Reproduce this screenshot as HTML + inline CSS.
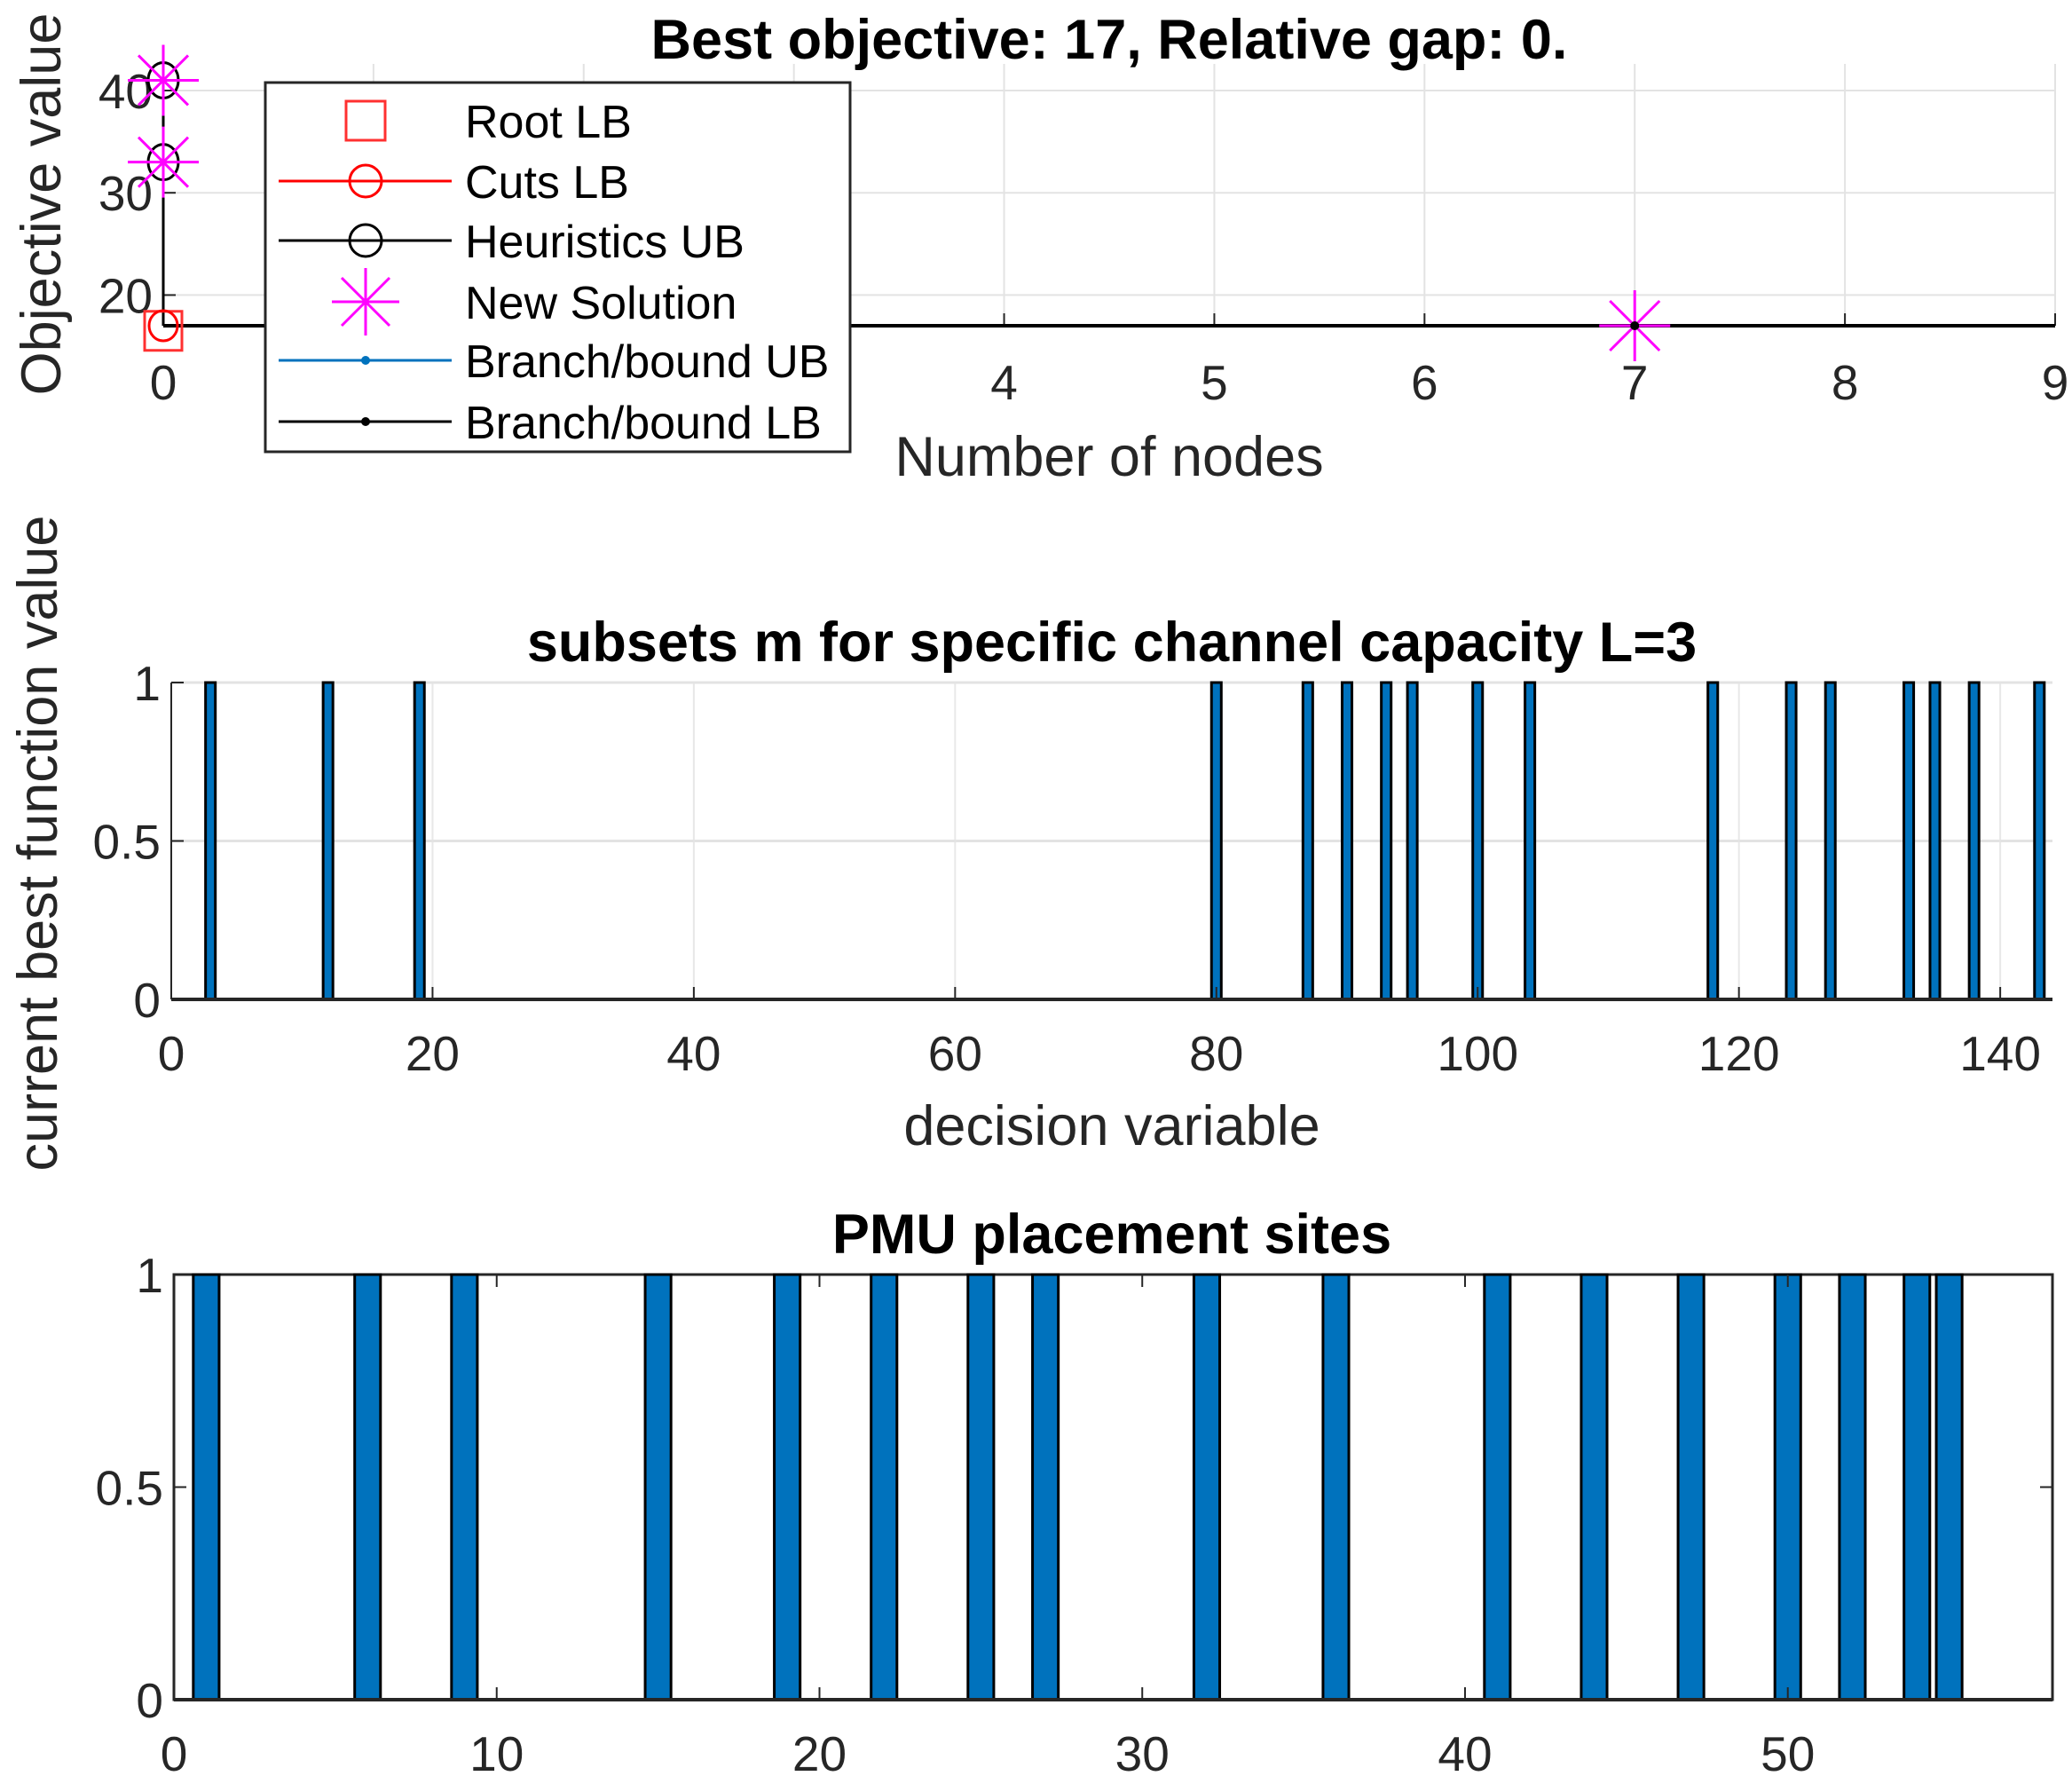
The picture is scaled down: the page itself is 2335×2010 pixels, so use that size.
<!DOCTYPE html>
<html><head><meta charset="utf-8"><style>
html,body{margin:0;padding:0;background:#fff}
svg{display:block;font-family:"Liberation Sans",Arial,sans-serif}
</style></head><body>
<svg id="chart" width="2335" height="2010" viewBox="0 0 2335 2010" xmlns="http://www.w3.org/2000/svg">
<rect width="2335" height="2010" fill="#fff"/>
<g id="top"></g>
<g id="mid"></g>
<g id="bot"></g>
</svg>
<script>
// ---- Data ----
const topXTicks = [0,1,2,3,4,5,6,7,8,9];
const topYTicks = [20,30,40];
const heurX = [0,0];
const heurY = [41,33];
const newSolX = [0,0,7];
const newSolY = [41,33,17];
const lbX = [0,9];
const lbY = [17,17];
const rootLB = [0,16.5];
const cutsLB = [0,17];

const midCategories = [3,12,19,80,87,90,93,95,100,104,118,124,127,133,135,138,143];
const midValues = [1,1,1,1,1,1,1,1,1,1,1,1,1,1,1,1,1];
const midXTicks = [0,20,40,60,80,100,120,140];
const midYTicks = [0,0.5,1];

const botCategories = [1,6,9,15,19,22,25,27,32,36,41,44,47,50,52,54,55];
const botValues = [1,1,1,1,1,1,1,1,1,1,1,1,1,1,1,1,1];
const botXTicks = [0,10,20,30,40,50];
const botYTicks = [0,0.5,1];

const NS='http://www.w3.org/2000/svg';
function mk(parent,tag,attrs,text){const e=document.createElementNS(NS,tag);for(const k in attrs)e.setAttribute(k,attrs[k]);if(text!==undefined)e.textContent=text;parent.appendChild(e);return e;}
const FS=55, AFS=63, LFS=52, TC='#262626', BLUE='#0072bd';

// ---- Top panel ----
(function(){
  const g=document.getElementById('top');
  const L=184,R=2316,T=72,B=367;
  const x=v=>L+(v-0)/9*(R-L);
  const y=v=>B-(v-17)/(40-17)*(B-102);
  topXTicks.forEach(t=>{let e=mk(g,'line',{x1:x(t),x2:x(t),y1:T,y2:B,stroke:'#e3e3e3','stroke-width':2});
    
    e=mk(g,'line',{x1:x(t),x2:x(t),y1:B,y2:B-14,stroke:TC,'stroke-width':2});
    e=mk(g,'text',{x:x(t),y:450,'font-size':FS,'text-anchor':'middle',fill:TC},t);
    });
  topYTicks.forEach(t=>{let e=mk(g,'line',{x1:L,x2:R,y1:y(t),y2:y(t),stroke:'#e3e3e3','stroke-width':2});
    
    mk(g,'line',{x1:L,x2:L+14,y1:y(t),y2:y(t),stroke:TC,'stroke-width':2});
    e=mk(g,'text',{x:L-12,y:y(t)+20,'font-size':FS,'text-anchor':'end',fill:TC},t);
    });
  let e=mk(g,'line',{x1:x(lbX[0]),x2:x(lbX[1]),y1:y(lbY[0]),y2:y(lbY[1]),stroke:'#000','stroke-width':4});
  
  e=mk(g,'line',{x1:x(0),x2:x(0),y1:y(heurY[0]),y2:y(17),stroke:'#000','stroke-width':3});
  
  function star(cx,cy,r){const s=mk(g,'g',{stroke:'#ff00ff','stroke-width':3});
    mk(s,'line',{x1:cx-r,x2:cx+r,y1:cy,y2:cy});mk(s,'line',{x1:cx,x2:cx,y1:cy-r,y2:cy+r});
    const d=r*0.7;mk(s,'line',{x1:cx-d,x2:cx+d,y1:cy-d,y2:cy+d});mk(s,'line',{x1:cx-d,x2:cx+d,y1:cy+d,y2:cy-d});return s;}
  heurX.forEach((v,i)=>{const c=mk(g,'ellipse',{cx:x(v),cy:y(heurY[i]),rx:17,ry:20,fill:'none',stroke:'#000','stroke-width':3});
    });
  newSolX.forEach((v,i)=>{const s=star(x(v),y(newSolY[i]),40);
    });
  e=mk(g,'circle',{cx:x(lbX[1]*7/9),cy:y(17),r:5,fill:'#000'});
  e=mk(g,'rect',{x:x(rootLB[0])-21,y:y(rootLB[1])-22,width:42,height:44,fill:'none',stroke:'#ff3030','stroke-width':3});
  
  e=mk(g,'ellipse',{cx:x(cutsLB[0]),cy:y(cutsLB[1]),rx:16,ry:17,fill:'none',stroke:'#ff0000','stroke-width':3});
  
  e=mk(g,'text',{x:1250,y:66,'font-size':AFS,'font-weight':'bold','text-anchor':'middle',fill:'#000'},'Best objective: 17, Relative gap: 0.');
  
  e=mk(g,'text',{x:1250,y:536,'font-size':AFS,'text-anchor':'middle',fill:TC},'Number of nodes');
  
  e=mk(g,'text',{x:0,y:0,'font-size':AFS,'text-anchor':'middle',fill:TC,transform:'translate(68,230) rotate(-90)'},'Objective value');
  
  // legend
  const lg=mk(g,'g',{});
  mk(lg,'rect',{x:299,y:93,width:659,height:416,fill:'#fff',stroke:'#262626','stroke-width':3});
  const names=['Root LB','Cuts LB','Heuristics UB','New Solution','Branch/bound UB','Branch/bound LB'];
  const rows=[136,204,271,340,406,475];
  names.forEach((n,i)=>{const ry=rows[i];
    const ent=mk(lg,'g',{});
    if(i==0) mk(ent,'rect',{x:390,y:ry-22,width:44,height:44,fill:'none',stroke:'#ff3030','stroke-width':3});
    if(i==1){mk(ent,'line',{x1:314,x2:509,y1:ry,y2:ry,stroke:'#ff0000','stroke-width':3});mk(ent,'ellipse',{cx:412,cy:ry,rx:18,ry:18,fill:'none',stroke:'#ff0000','stroke-width':3});}
    if(i==2){mk(ent,'line',{x1:314,x2:509,y1:ry,y2:ry,stroke:'#000','stroke-width':3});mk(ent,'ellipse',{cx:412,cy:ry,rx:18,ry:18,fill:'none',stroke:'#000','stroke-width':3});}
    if(i==3){const s=mk(ent,'g',{stroke:'#ff00ff','stroke-width':3});mk(s,'line',{x1:374,x2:450,y1:ry,y2:ry});mk(s,'line',{x1:412,x2:412,y1:ry-38,y2:ry+38});mk(s,'line',{x1:385,x2:439,y1:ry-27,y2:ry+27});mk(s,'line',{x1:385,x2:439,y1:ry+27,y2:ry-27});}
    if(i==4){mk(ent,'line',{x1:314,x2:509,y1:ry,y2:ry,stroke:BLUE,'stroke-width':3});mk(ent,'circle',{cx:412,cy:ry,r:5,fill:BLUE});}
    if(i==5){mk(ent,'line',{x1:314,x2:509,y1:ry,y2:ry,stroke:'#000','stroke-width':3});mk(ent,'circle',{cx:412,cy:ry,r:5,fill:'#000'});}
    mk(ent,'text',{x:524,y:ry+19,'font-size':LFS,fill:'#000'},n);});
})();

// ---- Bar panel helper ----
function barPanel(id,cats,vals,xTicks,yTicks,o){
  const g=document.getElementById(id);
  const x=v=>o.L+(v-o.x0)/(o.x1-o.x0)*(o.R-o.L);
  const y=v=>o.B-v*(o.B-o.T);
  if(o.grid){xTicks.forEach(t=>{const e=mk(g,'line',{x1:x(t),x2:x(t),y1:o.T,y2:o.B,stroke:'#e8e8e8','stroke-width':2});
      });
    yTicks.forEach(t=>{const e=mk(g,'line',{x1:o.L,x2:o.R,y1:y(t),y2:y(t),stroke:'#e3e3e3','stroke-width':3});
      });}
  if(o.box){mk(g,'rect',{x:o.L,y:o.T,width:o.R-o.L,height:o.B-o.T,fill:'none',stroke:'#262626','stroke-width':3});}
  cats.forEach((c,i)=>{const w=o.bw*(o.R-o.L)/(o.x1-o.x0);
    const r=mk(g,'rect',{x:x(c)-w/2,y:y(vals[i]),width:w,height:y(0)-y(vals[i]),fill:BLUE,stroke:'#000','stroke-width':3});
    });
  mk(g,'line',{x1:o.L,x2:o.R,y1:o.B,y2:o.B,stroke:'#262626','stroke-width':4});
  mk(g,'line',{x1:o.L,x2:o.L,y1:o.T,y2:o.B,stroke:'#262626','stroke-width':2});
  xTicks.forEach(t=>{mk(g,'line',{x1:x(t),x2:x(t),y1:o.B,y2:o.B-14,stroke:'#262626','stroke-width':2});
    if(o.box) mk(g,'line',{x1:x(t),x2:x(t),y1:o.T,y2:o.T+14,stroke:'#262626','stroke-width':2});
    const e=mk(g,'text',{x:x(t),y:o.B+80,'font-size':FS,'text-anchor':'middle',fill:TC},t);
    });
  yTicks.forEach(t=>{mk(g,'line',{x1:o.L,x2:o.L+14,y1:y(t),y2:y(t),stroke:'#262626','stroke-width':2});
    if(o.box) mk(g,'line',{x1:o.R,x2:o.R-14,y1:y(t),y2:y(t),stroke:'#262626','stroke-width':2});
    const e=mk(g,'text',{x:o.L-12,y:y(t)+20,'font-size':FS,'text-anchor':'end',fill:TC},t);
    });
  const e=mk(g,'text',{x:1253,y:o.T-24,'font-size':AFS,'font-weight':'bold','text-anchor':'middle',fill:'#000'},o.title);
  
  return {g,x,y};
}
const m=barPanel('mid',midCategories,midValues,midXTicks,midYTicks,{L:193,R:2313,T:769,B:1126,x0:0,x1:144,bw:0.75,grid:true,box:false,title:'subsets m for specific channel capacity L=3'});
let t=mk(m.g,'text',{x:1253,y:1290,'font-size':AFS,'text-anchor':'middle',fill:TC},'decision variable');

t=mk(m.g,'text',{x:0,y:0,'font-size':AFS,'text-anchor':'middle',fill:TC,transform:'translate(64,950) rotate(-90)'},'current best function value');

barPanel('bot',botCategories,botValues,botXTicks,botYTicks,{L:196,R:2313,T:1436,B:1915,x0:0,x1:58.2,bw:0.8,grid:false,box:true,title:'PMU placement sites'});
</script>
</body></html>
